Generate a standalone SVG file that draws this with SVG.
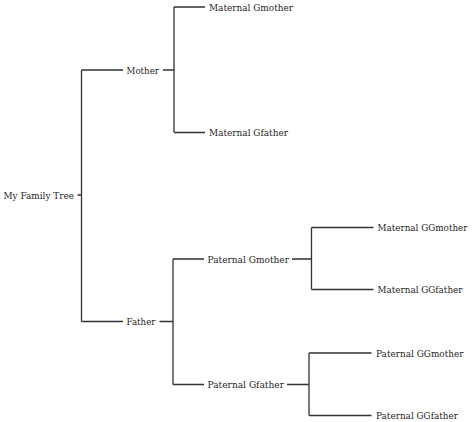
<svg xmlns="http://www.w3.org/2000/svg" width="474" height="422" viewBox="0 0 474 422">
<style>
.e{fill:none;stroke:#333;stroke-width:1.3}
.t{font-family:"DejaVu Serif","Liberation Serif",serif;font-size:9.8px;fill:#262626}
.s{font-size:9.3px}
</style>
<rect width="474" height="422" fill="#fff"/>
<g id="connectors" class="e">
<path d="M77.5,195H81.5M81.5,70V321.5M81.5,70H123M81.5,321.5H123"/>
<path d="M163,70H174M174,7V132.5M174,7H205M174,132.5H205"/>
<path d="M159.5,321.5H173M173,259V384.5M173,259H204M173,384.5H204"/>
<path d="M292,259H311.5M311.5,227.5V289.5M311.5,227.5H373.5M311.5,289.5H373.5"/>
<path d="M287,384.5H309M309,353V415.5M309,353H371.5M309,415.5H371.5"/>
</g>
<g id="root"><text class="t" x="3.5" y="198.5" textLength="70.5" lengthAdjust="spacingAndGlyphs">My Family Tree</text></g>
<g id="mother"><text class="t" x="126.5" y="73.5" textLength="32.5" lengthAdjust="spacingAndGlyphs">Mother</text></g>
<g id="father"><text class="t" x="126.5" y="325" textLength="29" lengthAdjust="spacingAndGlyphs">Father</text></g>
<g id="maternal-gmother"><text class="t" x="209" y="10.5" textLength="84" lengthAdjust="spacingAndGlyphs">Maternal Gmother</text></g>
<g id="maternal-gfather"><text class="t" x="209" y="136" textLength="79" lengthAdjust="spacingAndGlyphs">Maternal Gfather</text></g>
<g id="paternal-gmother"><text class="t" x="207.5" y="262.5" textLength="81.5" lengthAdjust="spacingAndGlyphs">Paternal Gmother</text></g>
<g id="paternal-gfather"><text class="t" x="207.5" y="388" textLength="76.5" lengthAdjust="spacingAndGlyphs">Paternal Gfather</text></g>
<g id="maternal-ggmother"><text class="t s" x="377.5" y="231" textLength="90" lengthAdjust="spacingAndGlyphs">Maternal GGmother</text></g>
<g id="maternal-ggfather"><text class="t" x="377.5" y="293" textLength="85" lengthAdjust="spacingAndGlyphs">Maternal GGfather</text></g>
<g id="paternal-ggmother"><text class="t" x="376" y="356.5" textLength="87.5" lengthAdjust="spacingAndGlyphs">Paternal GGmother</text></g>
<g id="paternal-ggfather"><text class="t" x="376" y="419" textLength="82" lengthAdjust="spacingAndGlyphs">Paternal GGfather</text></g>
</svg>
